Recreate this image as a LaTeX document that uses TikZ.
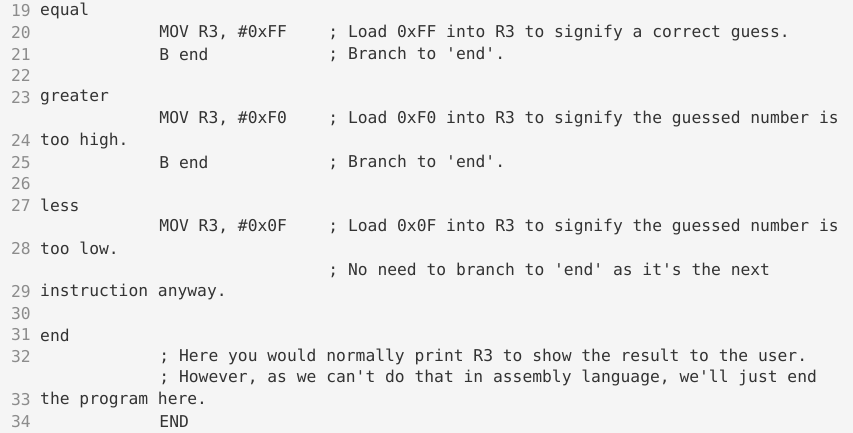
\documentclass[tikz,border=0pt]{standalone}
\usepackage{fontspec}
\setmonofont{DejaVu Sans Mono}
\begin{document}
\begin{tikzpicture}[x=1pt,y=1pt,
  code/.style={anchor=west,inner sep=0pt,text=black!80,font=\fontsize{16.3}{18}\ttfamily},
  num/.style={anchor=east,inner sep=0pt,text=black!45,font=\fontsize{16.3}{18}\ttfamily}]
\fill[black!4] (0,0) rectangle (853,-433);
\useasboundingbox (0,0) rectangle (853,-433);
\def\Y#1{-11-21.6*#1}
\def\cx#1{40+9.94*#1}
\node[num] (n19) at (31,{\Y{0}}) {19};
\node[code] (l0) at ({\cx{0}},{\Y{0}}) {equal};
\node[num] (n20) at (31,{\Y{1}}) {20};
\node[code] (l1a) at ({\cx{12}},{\Y{1}}) {MOV R3, \#0xFF};
\node[code] (l1b) at ({\cx{29}},{\Y{1}}) {; Load 0xFF into R3 to signify a correct guess.};
\node[num] (n21) at (31,{\Y{2}}) {21};
\node[code] (l2a) at ({\cx{12}},{\Y{2}}) {B end};
\node[code] (l2b) at ({\cx{29}},{\Y{2}}) {; Branch to 'end'.};
\node[num] (n22) at (31,{\Y{3}}) {22};
\node[num] (n23) at (31,{\Y{4}}) {23};
\node[code] (l4) at ({\cx{0}},{\Y{4}}) {greater};
\node[code] (l5a) at ({\cx{12}},{\Y{5}}) {MOV R3, \#0xF0};
\node[code] (l5b) at ({\cx{29}},{\Y{5}}) {; Load 0xF0 into R3 to signify the guessed number is};
\node[num] (n24) at (31,{\Y{6}}) {24};
\node[code] (l6) at ({\cx{0}},{\Y{6}}) {too high.};
\node[num] (n25) at (31,{\Y{7}}) {25};
\node[code] (l7a) at ({\cx{12}},{\Y{7}}) {B end};
\node[code] (l7b) at ({\cx{29}},{\Y{7}}) {; Branch to 'end'.};
\node[num] (n26) at (31,{\Y{8}}) {26};
\node[num] (n27) at (31,{\Y{9}}) {27};
\node[code] (l9) at ({\cx{0}},{\Y{9}}) {less};
\node[code] (l10a) at ({\cx{12}},{\Y{10}}) {MOV R3, \#0x0F};
\node[code] (l10b) at ({\cx{29}},{\Y{10}}) {; Load 0x0F into R3 to signify the guessed number is};
\node[num] (n28) at (31,{\Y{11}}) {28};
\node[code] (l11) at ({\cx{0}},{\Y{11}}) {too low.};
\node[code] (l12) at ({\cx{29}},{\Y{12}}) {; No need to branch to 'end' as it's the next};
\node[num] (n29) at (31,{\Y{13}}) {29};
\node[code] (l13) at ({\cx{0}},{\Y{13}}) {instruction anyway.};
\node[num] (n30) at (31,{\Y{14}}) {30};
\node[num] (n31) at (31,{\Y{15}}) {31};
\node[code] (l15) at ({\cx{0}},{\Y{15}}) {end};
\node[num] (n32) at (31,{\Y{16}}) {32};
\node[code] (l16) at ({\cx{12}},{\Y{16}}) {; Here you would normally print R3 to show the result to the user.};
\node[code] (l17) at ({\cx{12}},{\Y{17}}) {; However, as we can't do that in assembly language, we'll just end};
\node[num] (n33) at (31,{\Y{18}}) {33};
\node[code] (l18) at ({\cx{0}},{\Y{18}}) {the program here.};
\node[num] (n34) at (31,{\Y{19}}) {34};
\node[code] (l19) at ({\cx{12}},{\Y{19}}) {END};
\end{tikzpicture}
\end{document}
